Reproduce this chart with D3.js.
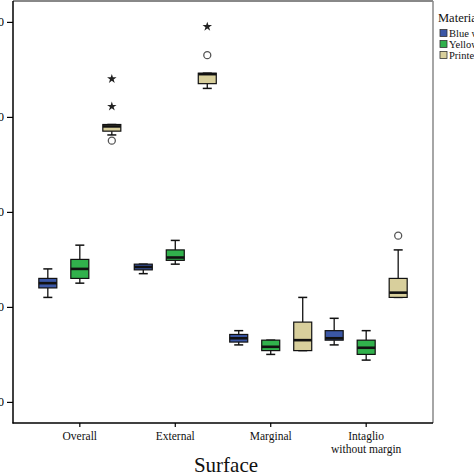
<!DOCTYPE html>
<html>
<head>
<meta charset="utf-8">
<script src="https://cdn.jsdelivr.net/npm/d3@7"></script>
<style>
  body { margin: 0; background: #fff; }
  svg { display: block; font-family: "Liberation Serif", "DejaVu Serif", serif; }
</style>
</head>
<body>
<svg id="chart" width="474" height="474"></svg>
<script>
// values (rows = surface, cols = material)
const surfaces = ['Overall', 'External', 'Marginal', 'Intaglio without margin']
const materials = ['Blue window', 'Yellow window', 'Printed window']
const colors = ['#3b57a6', '#31b14c', '#d8cf9c']
const yTicks = [10, 20, 30, 40, 50]

const whiskerLow = [[21.0, 22.5, 38.1], [23.5, 24.5, 43.0], [16.0, 15.0, 15.4], [16.0, 14.4, 21.0]]
const q1 = [[22.0, 23.0, 38.5], [23.9, 24.9, 43.5], [16.3, 15.4, 15.4], [16.5, 15.0, 21.0]]
const median = [[22.5, 24.0, 39.0], [24.2, 25.2, 44.5], [16.7, 15.8, 16.5], [16.7, 15.7, 21.5]]
const q3 = [[23.0, 25.0, 39.2], [24.5, 26.0, 44.6], [17.1, 16.5, 18.4], [17.5, 16.5, 23.0]]
const whiskerHigh = [[24.0, 26.5, 39.2], [24.5, 27.0, 44.6], [17.5, 16.5, 21.0], [18.8, 17.5, 26.0]]

// outliers: [surface, material, value]
const circles = [[0, 2, 37.5], [1, 2, 46.5], [3, 2, 27.5]]
const stars = [[0, 2, 41.1], [0, 2, 44.0], [1, 2, 49.5]]

const svg = d3.select('#chart')
const mLeft = 13, mRight = 433, mTop = 1, mBottom = 423

let x = d3.scaleBand().domain(surfaces).range([mLeft, mRight]).paddingInner(0).paddingOuter(0.2)
let xm = d3.scaleBand().domain(materials).range([-48, 48]).padding(0)
let y = d3.scaleLinear().domain([7.78, 52.2]).range([mBottom, mTop])
const boxW = 18

// frame
svg.append('line').attr('x1', mLeft).attr('x2', mRight).attr('y1', mTop).attr('y2', mTop)
  .attr('stroke', '#888').attr('stroke-width', 2)
svg.append('line').attr('x1', mRight).attr('x2', mRight).attr('y1', mTop).attr('y2', mBottom)
  .attr('stroke', '#888').attr('stroke-width', 1.5)

// y axis
let yAxis = svg.append('g').attr('transform', `translate(${mLeft},0)`)
  .call(d3.axisLeft(y).tickValues(yTicks).tickSize(6).tickPadding(3).tickSizeOuter(0))
yAxis.select('.domain').remove()
yAxis.selectAll('.tick line').attr('stroke', '#000').attr('stroke-width', 1.2)
yAxis.selectAll('text').attr('font-size', 12).attr('fill', '#000')
  .attr('font-family', '"Liberation Serif", serif')
svg.append('line').attr('x1', mLeft).attr('x2', mLeft).attr('y1', mTop).attr('y2', mBottom + 0.5)
  .attr('stroke', '#000').attr('stroke-width', 1.5)

// x axis
let xAxis = svg.append('g').attr('transform', `translate(0,${mBottom})`)
  .call(d3.axisBottom(x).tickSize(4).tickSizeOuter(0).tickFormat(''))
xAxis.select('.domain').remove()
xAxis.selectAll('.tick line').attr('stroke', '#000').attr('stroke-width', 1.2)
svg.append('line').attr('x1', mLeft - 0.5).attr('x2', mRight).attr('y1', mBottom).attr('y2', mBottom)
  .attr('stroke', '#000').attr('stroke-width', 1.5)

surfaces.forEach(s => {
  const cx = x(s) + x.bandwidth() / 2
  const lines = s === 'Intaglio without margin' ? ['Intaglio', 'without margin'] : [s]
  const t = svg.append('text').attr('x', cx).attr('y', 440).attr('text-anchor', 'middle')
    .attr('font-size', 11.5).attr('fill', '#111')
  lines.forEach((l, i) => {
    t.append('tspan').attr('x', cx).attr('dy', i === 0 ? 0 : 13).text(l)
  })
})

svg.append('text').attr('x', 226).attr('y', 472).attr('text-anchor', 'middle')
  .attr('font-size', 21).attr('fill', '#111').text('Surface')

// boxes
const gx = (si, mi) => x(surfaces[si]) + x.bandwidth() / 2 + xm(materials[mi]) + xm.bandwidth() / 2

surfaces.forEach((s, si) => {
  materials.forEach((m, mi) => {
    const cx = gx(si, mi)
    const g = svg.append('g')
    // whiskers
    g.append('line').attr('x1', cx).attr('x2', cx)
      .attr('y1', y(whiskerHigh[si][mi])).attr('y2', y(q3[si][mi]))
      .attr('stroke', '#111').attr('stroke-width', 1.3)
    g.append('line').attr('x1', cx).attr('x2', cx)
      .attr('y1', y(q1[si][mi])).attr('y2', y(whiskerLow[si][mi]))
      .attr('stroke', '#111').attr('stroke-width', 1.3)
    ;[whiskerHigh[si][mi], whiskerLow[si][mi]].forEach(v => {
      g.append('line').attr('x1', cx - 4.5).attr('x2', cx + 4.5)
        .attr('y1', y(v)).attr('y2', y(v))
        .attr('stroke', '#111').attr('stroke-width', 1.5)
    })
    g.append('rect').attr('x', cx - boxW / 2).attr('width', boxW)
      .attr('y', y(q3[si][mi])).attr('height', Math.max(1, y(q1[si][mi]) - y(q3[si][mi])))
      .attr('fill', colors[mi]).attr('stroke', '#111').attr('stroke-width', 1.2)
    g.append('line').attr('x1', cx - boxW / 2).attr('x2', cx + boxW / 2)
      .attr('y1', y(median[si][mi])).attr('y2', y(median[si][mi]))
      .attr('stroke', '#111').attr('stroke-width', 2.6)
  })
})

// outliers
svg.selectAll('circle.out').data(circles).join('circle').attr('class', 'out')
  .attr('cx', d => gx(d[0], d[1])).attr('cy', d => y(d[2])).attr('r', 3.5)
  .attr('fill', 'none').attr('stroke', '#555').attr('stroke-width', 1.3)
const star = d3.symbol().type(d3.symbolStar).size(28)
svg.selectAll('path.star').data(stars).join('path').attr('class', 'star')
  .attr('transform', d => `translate(${gx(d[0], d[1])},${y(d[2])})`)
  .attr('d', star).attr('fill', '#222')

// legend
const lg = svg.append('g')
lg.append('text').attr('x', 438).attr('y', 22).attr('font-size', 12.5).attr('fill', '#111').text('Material')
materials.forEach((m, i) => {
  const yy = 33 + i * 11
  lg.append('rect').attr('x', 440).attr('y', yy - 3.5).attr('width', 7).attr('height', 7)
    .attr('fill', colors[i]).attr('stroke', '#333').attr('stroke-width', 0.8)
  lg.append('text').attr('x', 449).attr('y', yy + 3.5).attr('font-size', 10.5).attr('fill', '#111').text(m)
})
</script>
</body>
</html>
